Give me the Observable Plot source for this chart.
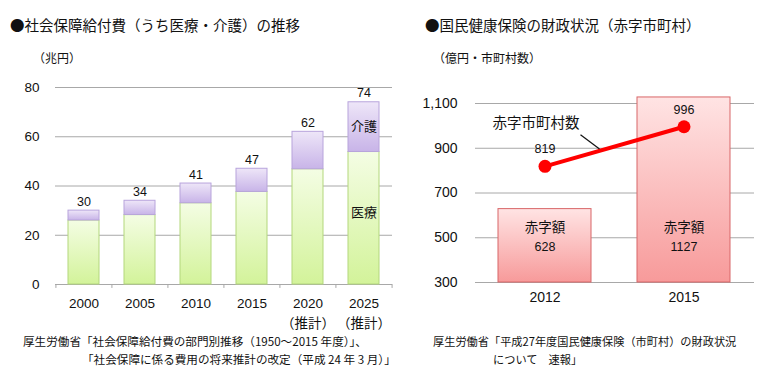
<!DOCTYPE html>
<html><head><meta charset="utf-8">
<script src="https://cdn.jsdelivr.net/npm/d3@7"></script>
<script src="https://cdn.jsdelivr.net/npm/@observablehq/plot@0.6"></script>
<style>
body{margin:0;background:#fff;}
#root{position:relative;width:768px;height:374px;overflow:hidden;font-family:"Noto Sans CJK JP",sans-serif;color:#111;}
.t{position:absolute;white-space:pre;line-height:1;}
.chart{position:absolute;}
</style></head><body><div id="root">
<div class="t" style="left:10px;top:18px;font-size:14.5px;">●社会保障給付費（うち医療・介護）の推移</div>
<div class="t" style="left:33px;top:52px;font-size:12px;">（兆円）</div>
<div class="t" style="left:425px;top:18px;font-size:14.5px;">●国民健康保険の財政状況（赤字市町村）</div>
<div class="t" style="left:433px;top:52px;font-size:12px;">（億円・市町村数）</div>
<div class="t" style="left:23px;top:336px;font-size:11.6px;">厚生労働省「社会保障給付費の部門別推移（1950～2015 年度）」、</div>
<div class="t" style="left:82px;top:354px;font-size:11.6px;">「社会保障に係る費用の将来推計の改定（平成 24 年 3 月）」</div>
<div class="t" style="left:433px;top:336px;font-size:11.2px;">厚生労働省「平成27年度国民健康保険（市町村）の財政状況</div>
<div class="t" style="left:493px;top:354px;font-size:11.2px;">について　速報」</div>
<div class="chart" id="left" style="left:0;top:70px;"></div>
<div class="chart" id="right" style="left:400px;top:70px;"></div>
</div>
<script>
// ---- Left chart data ----
const years = ["2000","2005","2010","2015","2020","2025"];
const yearTickLabels = ["2000","2005","2010","2015","2020\n（推計）","2025\n（推計）"];
const medical = [26.0, 28.2, 33.0, 37.6, 46.8, 53.8];
const care = [4.0, 5.8, 8.0, 9.4, 15.2, 20.2];
const totalLabels = [30, 34, 41, 47, 62, 74];
const leftYTicks = [0, 20, 40, 60, 80];

// ---- Right chart data ----
const fiscalYears = ["2012","2015"];
const deficitAmount = [628, 1127];
const deficitMunicipalities = [819, 996];
const rightYTicks = [300, 500, 700, 900, 1100];

const FONT = '"Liberation Sans","Noto Sans CJK JP",Arial,sans-serif';
const GRID = "#a8a8a8";

function addGradients(svg, defs) {
  const d = d3.select(svg).insert("defs", ":first-child");
  for (const [id, top, bottom] of defs) {
    const g = d.append("linearGradient").attr("id", id).attr("x1", 0).attr("y1", 0).attr("x2", 0).attr("y2", 1);
    g.append("stop").attr("offset", "0%").attr("stop-color", top);
    g.append("stop").attr("offset", "100%").attr("stop-color", bottom);
  }
}

// ---- Left plot ----
const W1 = 400, H1 = 270, mL1 = 55, mR1 = 8, mT1 = 17, mB1 = 56;
const step1 = (W1 - mL1 - mR1) / years.length;
const leftRows = years.map((y, i) => ({year: y, med: medical[i], care: care[i], total: medical[i] + care[i], label: totalLabels[i]}));
const leftPlot = Plot.plot({
  width: W1, height: H1, marginLeft: mL1, marginRight: mR1, marginTop: mT1, marginBottom: mB1,
  style: {fontFamily: FONT, fontSize: "13px", color: "#111", background: "transparent"},
  x: {domain: years, paddingInner: 0.44, paddingOuter: 0.22, axis: null, label: null},
  y: {domain: [0, 80], axis: null, label: null},
  marks: [
    Plot.ruleY(leftYTicks.filter(d => d > 0), {stroke: GRID}),
    Plot.axisY({ticks: leftYTicks, tickSize: 0, tickPadding: 16, fontSize: 13.5, label: null}),
    Plot.axisX({tickSize: 0, tickPadding: 10, tickFormat: d => yearTickLabels[years.indexOf(d)], lineHeight: 1.45, fontSize: 13.5, label: null}),
    Plot.ruleY([0], {stroke: GRID}),
    Plot.ruleX(years, {x: d => d, y1: 0, y2: -1.6, dx: -step1 / 2, stroke: GRID}),
    Plot.ruleX([years[years.length - 1]], {x: d => d, y1: 0, y2: -1.6, dx: step1 / 2, stroke: GRID}),
    Plot.barY(leftRows, {x: "year", y1: 0, y2: "med", fill: "url(#gMed)", stroke: "#b3d77c"}),
    Plot.barY(leftRows, {x: "year", y1: "med", y2: "total", fill: "url(#gCare)", stroke: "#b8a4dc"}),
    Plot.text(leftRows, {x: "year", y: "total", text: "label", dy: -9, fontSize: 12.5}),
    Plot.text([leftRows[leftRows.length - 1]], {x: "year", y: d => d.med + d.care / 2, text: () => "介護", fontSize: 13}),
    Plot.text([leftRows[leftRows.length - 1]], {x: "year", y: d => d.med / 2, dy: -5, text: () => "医療", fontSize: 13})
  ]
});
addGradients(leftPlot, [["gMed", "#f4fde4", "#d3f39a"], ["gCare", "#eee6f8", "#c8b4e8"]]);
document.getElementById("left").append(leftPlot);

// ---- Right plot ----
const W2 = 368, H2 = 270, mL2 = 75, mR2 = 14, mT2 = 33, mB2 = 58;
const rightRows = fiscalYears.map((y, i) => ({year: y, amount: deficitAmount[i], count: deficitMunicipalities[i]}));
const leader = (index, scales) => {
  const x = scales.x, y = scales.y;
  const bw = typeof x.bandwidth === "function" ? x.bandwidth() : 0;
  const cx = x(fiscalYears[0]) + bw / 2;
  const g = d3.create("svg:g");
  g.append("line")
    .attr("x1", cx + 36).attr("y1", y(958))
    .attr("x2", cx + 55).attr("y2", y(894))
    .attr("stroke", "#111").attr("stroke-width", 1.2);
  return g.node();
};
const rightPlot = Plot.plot({
  width: W2, height: H2, marginLeft: mL2, marginRight: mR2, marginTop: mT2, marginBottom: mB2,
  style: {fontFamily: FONT, fontSize: "13px", color: "#111", background: "transparent"},
  x: {domain: fiscalYears, paddingInner: 0.33, paddingOuter: 0.165, axis: null, label: null},
  y: {domain: [300, 1100], axis: null, label: null},
  marks: [
    Plot.ruleY(rightYTicks, {stroke: GRID}),
    Plot.axisY({ticks: rightYTicks, tickSize: 0, tickPadding: 18, tickFormat: d3.format(","), fontSize: 14, label: null}),
    Plot.axisX({tickSize: 0, tickPadding: 10, fontSize: 14, label: null}),
    Plot.barY(rightRows, {x: "year", y1: 300, y2: "amount", fill: "url(#gRed)", stroke: "#d86668"}),
    Plot.text(rightRows, {x: "year", y: 545, text: () => "赤字額", fontSize: 13.5}),
    Plot.text(rightRows, {x: "year", y: 460, text: d => String(d.amount), fontSize: 12.5}),
    Plot.line(rightRows, {x: "year", y: "count", stroke: "#ff0000", strokeWidth: 4}),
    Plot.dot(rightRows, {x: "year", y: "count", r: 6.5, fill: "#ff0000"}),
    Plot.text(rightRows, {x: "year", y: "count", dy: -17, text: d => String(d.count), fontSize: 12.5}),
    Plot.text([fiscalYears[0]], {x: d => d, y: 1012, dx: -9, text: () => "赤字市町村数", fontSize: 14.5}),
    leader
  ]
});
addGradients(rightPlot, [["gRed", "#ffe4e4", "#f79a9a"]]);
document.getElementById("right").append(rightPlot);
</script>
</body></html>
